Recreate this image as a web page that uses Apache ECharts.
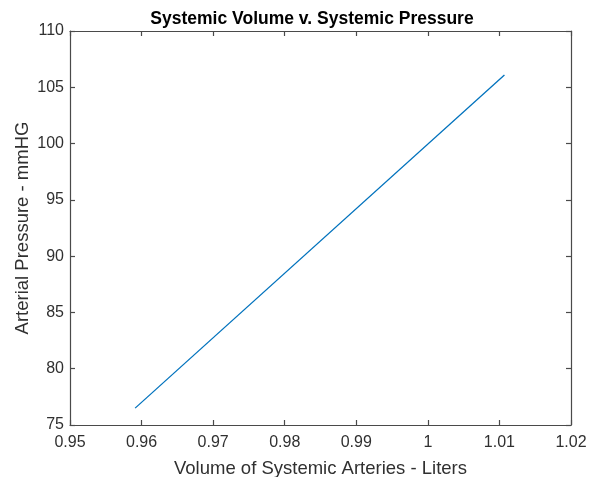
<!DOCTYPE html>
<html>
<head>
<meta charset="utf-8">
<script src="https://cdn.jsdelivr.net/npm/echarts@6/dist/echarts.min.js"></script>
<style>
  html, body { margin: 0; padding: 0; background: #fff; }
  #chart { width: 598px; height: 477px; }
</style>
</head>
<body>
<div id="chart"></div>
<script>
// volume (L) vs arterial pressure (mmHg)
const volume = [0.9591, 1.0107];
const pressure = [76.5, 106.1];

const xTicks = { min: 0.95, max: 1.02, interval: 0.01 };
const yTicks = { min: 75, max: 110, interval: 5 };

const axisColor = '#4a4a4a';
const textColor = '#303030';
const font = 'Liberation Sans, Arial, sans-serif';

function boxAxis(range, pos, showLabel) {
    return {
        type: 'value',
        position: pos,
        min: range.min,
        max: range.max,
        interval: range.interval,
        axisLine: { show: true, onZero: false, lineStyle: { color: axisColor, width: 1.2 } },
        axisTick: { show: true, inside: true, length: 5, lineStyle: { color: axisColor, width: 1.2 } },
        splitLine: { show: false },
        axisLabel: {
            show: showLabel,
            color: textColor,
            fontFamily: font,
            fontSize: 16,
            margin: pos === 'bottom' ? 10 : 6,
            formatter: v => String(Math.round(v * 1000) / 1000)
        }
    };
}

const chart = echarts.init(document.getElementById('chart'), null, { renderer: 'canvas' });

const xMain = boxAxis(xTicks, 'bottom', true);
xMain.name = 'Volume of Systemic Arteries - Liters';
xMain.nameLocation = 'middle';
xMain.nameGap = 34;
xMain.nameMoveOverlap = false;
xMain.nameTextStyle = { color: textColor, fontFamily: font, fontSize: 18.5 };

const yMain = boxAxis(yTicks, 'left', true);
yMain.name = 'Arterial Pressure - mmHG';
yMain.nameLocation = 'middle';
yMain.nameGap = 38;
yMain.nameMoveOverlap = false;
yMain.nameTextStyle = { color: textColor, fontFamily: font, fontSize: 18.5 };

chart.setOption({
    animation: false,
    title: {
        text: 'Systemic Volume v. Systemic Pressure',
        left: 307,
        textAlign: 'center',
        top: 5,
        textStyle: { color: '#000', fontFamily: font, fontSize: 17.5, fontWeight: 'bold' }
    },
    grid: { left: 70, right: 27, top: 31, bottom: 52, outerBoundsMode: 'none', containLabel: false },
    xAxis: [xMain, boxAxis(xTicks, 'top', false)],
    yAxis: [yMain, boxAxis(yTicks, 'right', false)],
    series: [{
        type: 'line',
        data: volume.map((v, i) => [v, pressure[i]]),
        symbol: 'none',
        lineStyle: { color: '#0072BD', width: 1.3 }
    }]
});
</script>
</body>
</html>
